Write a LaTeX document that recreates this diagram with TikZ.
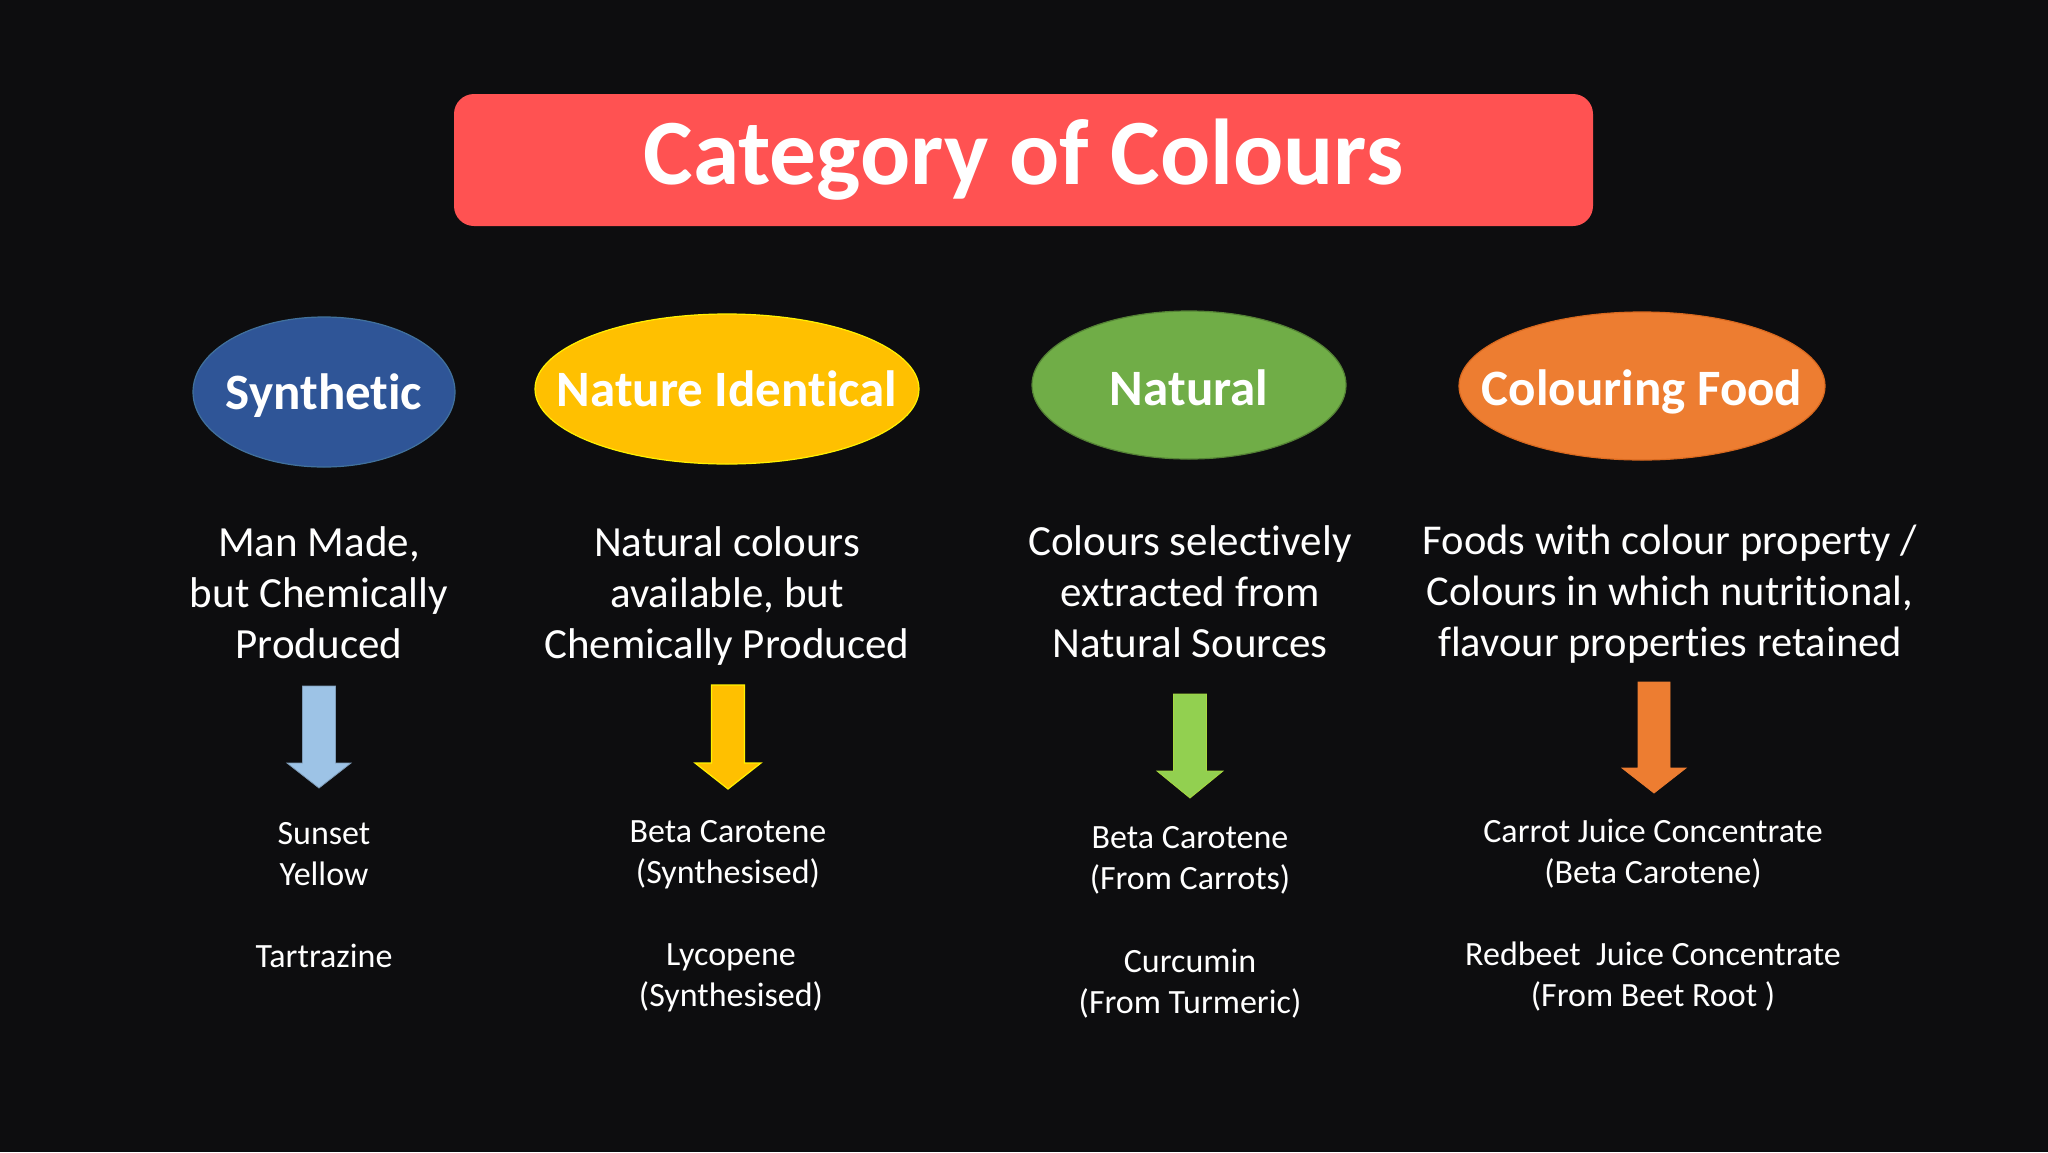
\documentclass[tikz,border=0pt]{standalone}
\usepackage{fontspec}
\setmainfont{Carlito}[Ligatures={NoCommon,NoDiscretionary,NoRequired,NoContextual}]
\usetikzlibrary{shapes.geometric}
\definecolor{bg}{HTML}{0D0D0F}
\definecolor{titlered}{HTML}{FF5252}
\definecolor{cblue}{HTML}{2F5597}
\definecolor{cblueb}{HTML}{41719C}
\definecolor{cyellow}{HTML}{FFC000}
\definecolor{cgreen}{HTML}{70AD47}
\definecolor{cgreenb}{HTML}{548235}
\definecolor{corange}{HTML}{ED7D31}
\definecolor{corangeb}{HTML}{D9691F}
\definecolor{alblue}{HTML}{9DC3E6}
\definecolor{algreen}{HTML}{92D050}
\newcommand{\blkarrow}[8]{% name, x, ytop, yhead, ytip, shaftw, headw, style
  \coordinate (#1) at (#2,#5);
  \filldraw[#8] (#2-#6/2,#3) -- (#2+#6/2,#3) -- (#2+#6/2,#4) -- (#2+#7/2,#4)
     -- (#2,#5) -- (#2-#7/2,#4) -- (#2-#6/2,#4) -- cycle;}
\begin{document}
\begin{tikzpicture}[x=1pt,y=-1pt,
  titlebox/.style={fill=titlered,rounded corners=20pt,text=white,
    font=\fontsize{93.5}{100}\selectfont\bfseries,inner sep=0pt},
  cat/.style={ellipse,inner sep=0pt,line width=1.2pt},
  cattext/.style={text=white,inner sep=0pt,font=\fontsize{51}{56}\selectfont\bfseries},
  desc/.style={text=white,align=center,font=\fontsize{43}{51}\selectfont,inner sep=0pt},
  ex/.style={text=white,align=center,font=\fontsize{34}{41}\selectfont,inner sep=0pt}]
\fill[bg] (0,0) rectangle (2048,1152);
\useasboundingbox (0,0) rectangle (2048,1152);

\node[titlebox,minimum width=1139pt,minimum height=132pt] (title) at (1023.5,160) {Category of Colours};

\node[cat,fill=cblue,draw=cblueb,minimum width=262pt,minimum height=150pt] (syn) at (324,392) {};
\node[cat,fill=cyellow,draw=yellow,minimum width=384pt,minimum height=150pt] (nid) at (727,389) {};
\node[cat,fill=cgreen,draw=cgreenb,minimum width=314pt,minimum height=148pt] (nat) at (1189,385) {};
\node[cat,fill=corange,draw=corangeb,minimum width=366pt,minimum height=148pt] (cf) at (1642,386) {};
\node[cattext] (synt) at ([yshift=-4pt]syn.center) {Synthetic};
\node[cattext] (nidt) at (nid) {Nature Identical};
\node[cattext] (natt) at ([yshift=-3pt]nat.center) {Natural};
\node[cattext] (cft) at ([yshift=-6pt]cf.center) {Colouring Food};

\node[desc] (d1) at (319,593) {Man Made,\\but Chemically\\Produced};
\node[desc] (d2) at (727,596) {Natural colours\\available, but\\Chemically Produced};
\node[desc] (d3) at (1190,592) {Colours selectively\\extracted from\\Natural Sources};
\node[desc,font=\fontsize{42.5}{51}\selectfont] (d4) at (1670,594) {Foods with colour property /\\Colours in which nutritional,\\flavour properties retained};

\blkarrow{a1}{319}{686}{763}{788}{33}{64}{fill=alblue,draw=alblue!80!black,line width=0.8pt}
\blkarrow{a2}{728}{685}{763}{789}{33}{66}{fill=cyellow,draw=yellow,line width=1.2pt}
\blkarrow{a3}{1190}{694}{771}{798}{33}{66}{fill=algreen,draw=algreen!80!yellow,line width=0.8pt}
\blkarrow{a4}{1654}{682}{768}{793}{32}{64}{fill=corange,draw=corange,line width=0.8pt}

\node[ex] (e1a) at (324,854) {Sunset\\Yellow};
\node[ex] (e1b) at (324,956) {Tartrazine};
\node[ex] (e2a) at (728,855) {Beta Carotene\\(Synthesised)};
\node[ex] (e2b) at (731,978) {Lycopene\\(Synthesised)};
\node[ex] (e3a) at (1190,860) {Beta Carotene\\(From Carrots)};
\node[ex] (e3b) at (1190,984) {Curcumin\\(From Turmeric)};
\node[ex] (e4a) at (1653,854) {Carrot Juice Concentrate\\(Beta Carotene)};
\node[ex] (e4b) at (1653,977) {Redbeet\ \ Juice Concentrate\\(From Beet Root )};
\end{tikzpicture}
\end{document}
